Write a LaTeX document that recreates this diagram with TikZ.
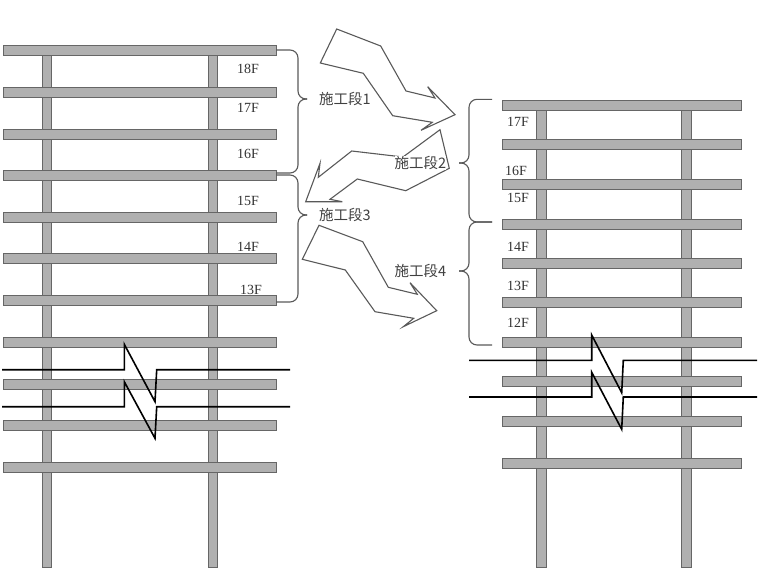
\documentclass[tikz,border=0pt]{standalone}
\usepackage{fontspec}
\setmainfont{Liberation Serif}
\newfontfamily\cjk{Noto Sans CJK SC}
\newcommand{\zigzag}[8]{%
  \draw[breakline] (#1,#3) -- (#2,#3) -- (#2,#4) -- (#5,#6) -- (#7,#3) -- (#8,#3);
}
\newcommand{\sidebrace}[6]{%
  \draw[bracket] (#1,#4) -- (#2,#4) -- (#2,#5) -- (#3,#5);
  \draw[bracket] (#1,#6) -- (#2,#6) -- (#2,#5) -- (#3,#5);
}
\begin{document}
\begin{tikzpicture}[x=1pt, y=-1pt,
  member/.style={draw=black!60, fill=black!31, line width=1pt},
  breakline/.style={black, line width=1.6pt, line join=miter},
  bracket/.style={draw=black!65, line width=1.1pt, rounded corners=8pt},
  bigarrow/.style={draw=black!65, line width=1.1pt, line join=miter},
  floor/.style={font=\fontsize{14}{15}\selectfont, text=black!80, inner sep=0pt},
  stage/.style={font=\cjk\fontsize{14.5}{15}\selectfont, text=black!75, inner sep=0pt}]
\useasboundingbox (0,0) rectangle (760,570);
% left frame
\foreach \x in {42,208}{
  \draw[member] (\x,50) rectangle (\x+9,567);
}
\foreach \y in {50,92,134,175,217,258,300,342,384,425,467}{
  \draw[member] (3,\y-5) rectangle (276,\y+5);
}
% right frame
\foreach \x in {536,681}{
  \draw[member] (\x,105) rectangle (\x+10,567);
}
\foreach \y in {105,144,184,224,263,302,342,381,421,463}{
  \draw[member] (502,\y-5) rectangle (741,\y+5);
}
% floor numbers
\foreach \x/\y/\name in {248/69/18F, 248/108/17F, 248/154/16F, 248/201/15F, 248/247/14F, 251/290/13F,
  518/122/17F, 516/171/16F, 518/198/15F, 518/247/14F, 518/286/13F, 518/323/12F}{
  \node[floor] (f\x-\y) at (\x,\y) {\name};
}
% break lines
\zigzag{2}{124.3}{369.7}{344.3}{155}{401.7}{156.7}{290}
\zigzag{2}{124.3}{406.7}{381.7}{155}{438.3}{156.7}{290}
\zigzag{469}{591.7}{360.3}{335}{621.7}{392.7}{623.3}{757}
\zigzag{469}{591.7}{397}{372.3}{621.7}{429.3}{623.3}{757}
% braces
\sidebrace{276}{298}{307}{50}{99}{173}
\sidebrace{276}{298}{307}{175}{215}{302}
\sidebrace{492}{469}{459}{99.3}{163}{222}
\sidebrace{492}{469}{459}{222}{271}{345}
% arrows
\draw[bigarrow] (336.7,29) -- (380.7,46) -- (406,91) -- (435,98) -- (427.7,86.7) -- (455,114.7)
  -- (421,130.3) -- (432.3,122.3) -- (392.7,115.7) -- (363.3,73.3) -- (320.3,63) -- cycle;
\draw[bigarrow] (440,129.7) -- (449.3,168.3) -- (405.7,190.7) -- (357.3,179) -- (330,199.3) -- (342.3,201.7)
  -- (305.7,201.7) -- (320,163.3) -- (318.3,177.3) -- (351.7,151) -- (403,157) -- cycle;
\draw[bigarrow] (319,225.3) -- (362.7,241.7) -- (388.3,287.3) -- (417.3,294.3) -- (410,282.7) -- (436.7,310.7)
  -- (403.3,326.7) -- (413.7,318.3) -- (375,311.7) -- (345.3,270) -- (302.3,259.3) -- cycle;
% stage labels
\node[stage] (stage1) at (345,99) {施工段1};
\node[stage, fill=white] (stage2) at (420.5,163) {施工段2};
\node[stage] (stage3) at (345,215) {施工段3};
\node[stage, fill=white] (stage4) at (420.5,271) {施工段4};
\end{tikzpicture}
\end{document}
